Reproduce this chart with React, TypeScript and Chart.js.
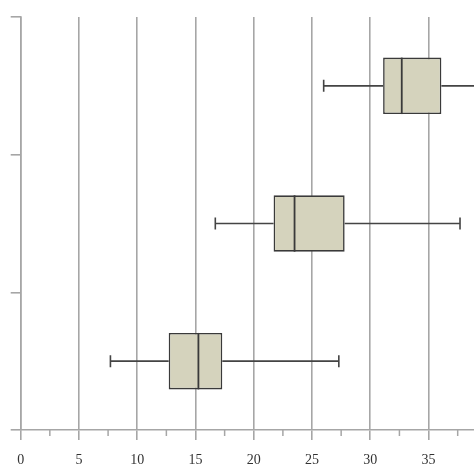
import React, { useEffect, useRef } from "react";
import { Chart, registerables } from "chart.js";

Chart.register(...registerables);

const categories = ["Group C", "Group B", "Group A"];
const whiskerLow = [26.0, 16.7, 7.7];
const q1 = [31.1, 21.7, 12.7];
const median = [32.7, 23.5, 15.25];
const q3 = [36.1, 27.8, 17.3];
const whiskerHigh = [40.0, 37.7, 27.3];
const xTickStep = 5;
const xMinorStep = 2.5;
const xMin = 0;
const xMax = 38.9;

const GRID = "#a6a6a6";
const BOX_FILL = "#d5d3bd";
const BOX_EDGE = "#3a3a3a";
const WHISKER = "#444444";

const whiskerPlugin = {
  id: "whiskers",
  beforeDatasetsDraw(chart: any) {
    const { ctx, scales } = chart;
    const x = scales.x;
    const y = scales.y;
    ctx.save();
    ctx.strokeStyle = WHISKER;
    ctx.lineWidth = 1.6;
    categories.forEach((_, i) => {
      const yc = y.getPixelForValue(i);
      const xl = x.getPixelForValue(whiskerLow[i]);
      const xh = x.getPixelForValue(whiskerHigh[i]);
      const xq1 = x.getPixelForValue(q1[i]);
      const xq3 = x.getPixelForValue(q3[i]);
      ctx.beginPath();
      ctx.moveTo(xl, yc);
      ctx.lineTo(xq1, yc);
      ctx.moveTo(xq3, yc);
      ctx.lineTo(xh, yc);
      ctx.moveTo(xl, yc - 6);
      ctx.lineTo(xl, yc + 6);
      ctx.moveTo(xh, yc - 6);
      ctx.lineTo(xh, yc + 6);
      ctx.stroke();
    });
    ctx.restore();
  },
  afterDatasetsDraw(chart: any) {
    const { ctx, scales } = chart;
    const x = scales.x;
    const meta = chart.getDatasetMeta(0);
    ctx.save();
    ctx.strokeStyle = BOX_EDGE;
    ctx.lineWidth = 1.8;
    categories.forEach((_, i) => {
      const bar: any = meta.data[i];
      const half = bar.height / 2;
      const xm = x.getPixelForValue(median[i]);
      ctx.beginPath();
      ctx.moveTo(xm, bar.y - half);
      ctx.lineTo(xm, bar.y + half);
      ctx.stroke();
    });
    ctx.restore();
  },
  afterDraw(chart: any) {
    const { ctx, scales } = chart;
    const x = scales.x;
    const bottom = chart.chartArea.bottom;
    ctx.save();
    ctx.strokeStyle = GRID;
    ctx.lineWidth = 1.5;
    for (let v = xMin + xMinorStep; v < xMax; v += xTickStep) {
      const px = x.getPixelForValue(v);
      ctx.beginPath();
      ctx.moveTo(px, bottom);
      ctx.lineTo(px, bottom + 6);
      ctx.stroke();
    }
    ctx.restore();
  },
};

export default function App() {
  const ref = useRef<HTMLCanvasElement>(null);

  useEffect(() => {
    document.body.style.margin = "0";
    const canvas = ref.current;
    if (!canvas) return;
    const boxes = categories.map((_, i) => [q1[i], q3[i]]);
    const chart = new Chart(canvas, {
      type: "bar",
      data: {
        labels: categories,
        datasets: [
          {
            data: boxes as any,
            backgroundColor: BOX_FILL,
            borderColor: BOX_EDGE,
            borderWidth: 1.6,
            borderSkipped: false,
            categoryPercentage: 1,
            barPercentage: 0.41,
          } as any,
        ],
      },
      options: {
        indexAxis: "y",
        animation: false,
        responsive: false,
        maintainAspectRatio: false,
        layout: { padding: { top: 17, left: 0, right: 0, bottom: 0 } },
        plugins: {
          legend: { display: false },
          tooltip: { enabled: false },
        },
        scales: {
          x: {
            type: "linear",
            min: xMin,
            max: xMax,
            grid: {
              color: GRID,
              lineWidth: 1.6,
              tickLength: 10,
              tickColor: GRID,
            },
            border: { color: GRID, width: 1.6 },
            ticks: {
              stepSize: xTickStep,
              includeBounds: false,
              padding: 12,
              color: "#333",
              font: { family: "Liberation Serif", size: 14 },
              maxRotation: 0,
            },
            afterFit(scale: any) {
              scale.height = 44;
            },
          },
          y: {
            type: "category",
            offset: true,
            grid: {
              offset: true,
              drawOnChartArea: false,
              color: GRID,
              lineWidth: 1.6,
              tickLength: 10,
              tickColor: GRID,
            },
            border: { color: GRID, width: 1.6 },
            ticks: { display: false },
            afterFit(scale: any) {
              scale.width = 20.7;
            },
          },
        },
      },
      plugins: [whiskerPlugin],
    } as any);
    return () => chart.destroy();
  }, []);

  return (
    <div style={{ width: 474, height: 474 }}>
      <canvas ref={ref} width={474} height={474} />
    </div>
  );
}
